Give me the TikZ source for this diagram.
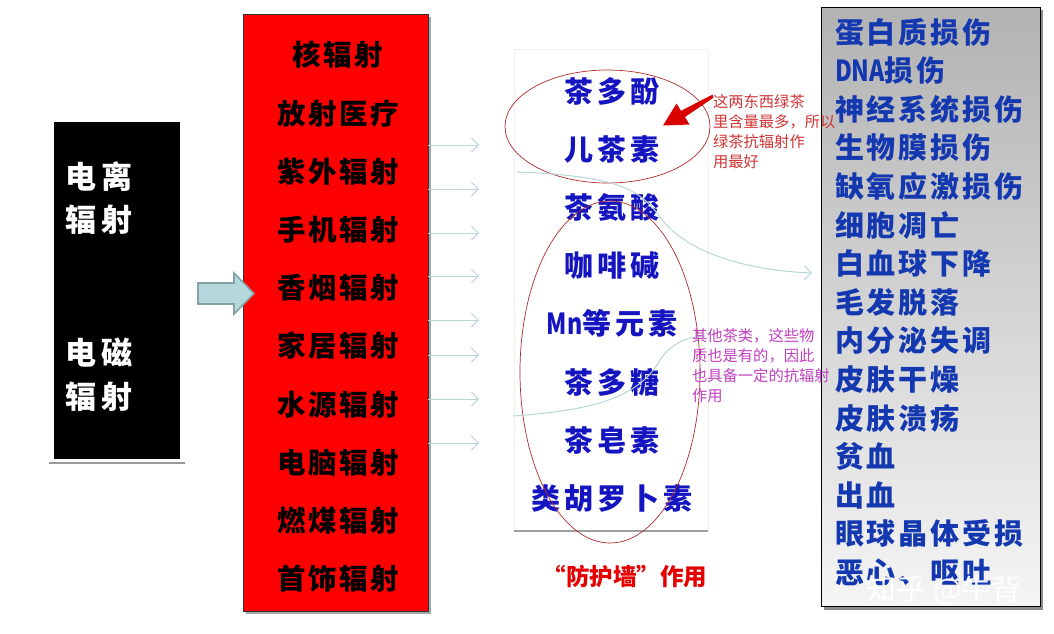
\documentclass[tikz,border=0pt]{standalone}
\usepackage{fontspec}
\setmainfont{Noto Sans CJK SC}
\newfontfamily\cjk{Noto Sans CJK SC}
\newfontfamily\cjksrc[LetterSpace=19]{Noto Sans CJK SC}
\newfontfamily\cjkrad[LetterSpace=9]{Noto Sans CJK SC}
\newfontfamily\cjkmid[LetterSpace=13]{Noto Sans CJK SC}
\newfontfamily\cjkeff[LetterSpace=10]{Noto Sans CJK SC}
\usetikzlibrary{arrows.meta}
\definecolor{radred}{HTML}{FF0000}
\definecolor{itemblue}{HTML}{1414C0}
\definecolor{effblue}{HTML}{1438B0}
\definecolor{linkgray}{HTML}{B8D6D8}
\definecolor{noteRed}{HTML}{D03535}
\definecolor{noteMag}{HTML}{C040C0}
\definecolor{arrowfill}{HTML}{B4D8DC}
\definecolor{arrowedge}{HTML}{84A2A6}
\newcommand{\narrowlat}[1]{\scalebox{0.8}[1]{\cjk\bfseries #1}}
\begin{document}
\begin{tikzpicture}[x=1pt,y=-1pt,
  every node/.style={inner sep=0pt, outer sep=0pt},
  srctxt/.style={font=\cjksrc\bfseries\fontsize{31}{31}\selectfont, text=white},
  radtxt/.style={font=\cjkrad\bfseries\fontsize{28.5}{29}\selectfont, text=black},
  midtxt/.style={font=\cjkmid\bfseries\fontsize{29}{29}\selectfont, text=itemblue},
  efftxt/.style={font=\cjkeff\bfseries\fontsize{29}{29}\selectfont, text=effblue, anchor=west},
  notetxt/.style={font=\cjk\fontsize{15.3}{20}\selectfont, align=left, anchor=north west},
  thinlink/.style={draw=linkgray, line width=1pt, -{Straight Barb[length=7pt,width=14pt]}},
  curvelink/.style={draw=linkgray, line width=1pt},
  ring/.style={draw=noteRed!85!black, line width=0.7pt}
]
\useasboundingbox (0,0) rectangle (1054,633);
\fill[white] (0,0) rectangle (1054,633);

% ---------- left black box ----------
\node[fill=black, minimum width=126, minimum height=337, anchor=north west] (src) at (54,122) {};
\draw[draw=black!40, line width=2pt] (49,463) -- (185,463);
\node[srctxt, anchor=west] (s1) at (65,177) {电离};
\node[srctxt, anchor=west] (s2) at (65,220) {辐射};
\node[srctxt, anchor=west] (s3) at (65,353) {电磁};
\node[srctxt, anchor=west] (s4) at (65,397) {辐射};

% ---------- red box ----------
\fill[black!35] (246,17) rectangle (431,614);
\node[fill=radred, draw=black!80, line width=0.6pt, minimum width=185, minimum height=597, anchor=north west] (rad) at (243,14) {};
\foreach \t [count=\i] in {核辐射,放射医疗,紫外辐射,手机辐射,香烟辐射,家居辐射,水源辐射,电脑辐射,燃煤辐射,首饰辐射}{
  \node[radtxt] (r\i) at (338,{55+58.2*(\i-1)}) {\t};
}

% ---------- block arrow ----------
\draw[fill=arrowfill, draw=arrowedge, line width=1.6pt, line join=miter]
  (198,283) -- (234,283) -- (234,273) -- (254,293.5) -- (234,314) -- (234,304) -- (198,304) -- cycle;

% ---------- thin arrows ----------
\foreach \yy [count=\j] in {145,189,233,276,320,355,399,443}{
  \coordinate (a\j) at (479,\yy);
  \draw[thinlink] (rad.east |- a\j) -- (a\j);
}

% ---------- middle box ----------
\node[draw=black!6, line width=0.5pt, minimum width=194, minimum height=481, anchor=north west] (mid) at (514,49) {};
\draw[draw=black!38, line width=2pt] (514,531) -- (708,531);

\foreach \t [count=\i] in {茶多酚,儿茶素,茶氨酸,咖啡碱,{\narrowlat{Mn}等元素},茶多糖,茶皂素,类胡罗卜素}{
  \node[midtxt] (m\i) at (612,{91+58.2*(\i-1)}) {\t};
}

% ellipses
\draw[ring] (607.5,126.5) ellipse [x radius=102.5, y radius=56.5];
\draw[ring] (610,372) ellipse [x radius=90, y radius=171];

% curved connectors
\coordinate (c1s) at (517,172);
\coordinate (c1e) at (812,273);
\draw[curvelink, -{Straight Barb[length=7pt,width=14pt]}] (c1s) .. controls (620,176) and (640,190) .. (660,217)
   .. controls (690,258) and (760,271) .. (c1e);
\coordinate (c2s) at (513,416);
\coordinate (c2e) at (706,336);
\draw[curvelink] (c2s) .. controls (600,410) and (640,395) .. (660,360)
   .. controls (672,342) and (690,336) .. (c2e);

% red annotation arrow
\fill[radred!85!black]
  (713.5,97.6) -- (685,117) -- (689.5,124.5) -- (663,125.5) -- (676.5,103.5) -- (681,110.8) -- (712.5,94.6) -- cycle;

% caption
\node[font=\cjk\bfseries\fontsize{23.5}{24}\selectfont, text=radred!90!black] (cap) at (625,576) {“防护墙”作用};

% ---------- right box ----------
\fill[black!45] (824,10) rectangle (1043,610);
\node[draw=black, line width=0.8pt, top color=black!30, bottom color=black!4, minimum width=219, minimum height=599, anchor=north west] (eff) at (821,7) {};
\foreach \t [count=\i] in {蛋白质损伤,{\narrowlat{DNA}损伤},神经系统损伤,生物膜损伤,缺氧应激损伤,细胞凋亡,白血球下降,毛发脱落,内分泌失调,皮肤干燥,皮肤溃疡,贫血,出血,眼球晶体受损,恶心、呕吐}{
  \node[efftxt] (e\i) at (835,{32+38.6*(\i-1)}) {\t};
}

% notes (drawn over the right box, as in the original)
\node[notetxt, text=noteRed] (n1) at (713,95) {这两东西绿茶\\里含量最多，所以\\绿茶抗辐射作\\用最好};
\node[notetxt, text=noteMag] (n2) at (692,329) {其他茶类，这些物\\质也是有的，因此\\也具备一定的抗辐射\\作用};

% watermark
\node[font=\cjk\fontsize{30}{30}\selectfont, text=white, opacity=0.95] (wm) at (944,590) {知乎 @牛背};
\end{tikzpicture}
\end{document}
